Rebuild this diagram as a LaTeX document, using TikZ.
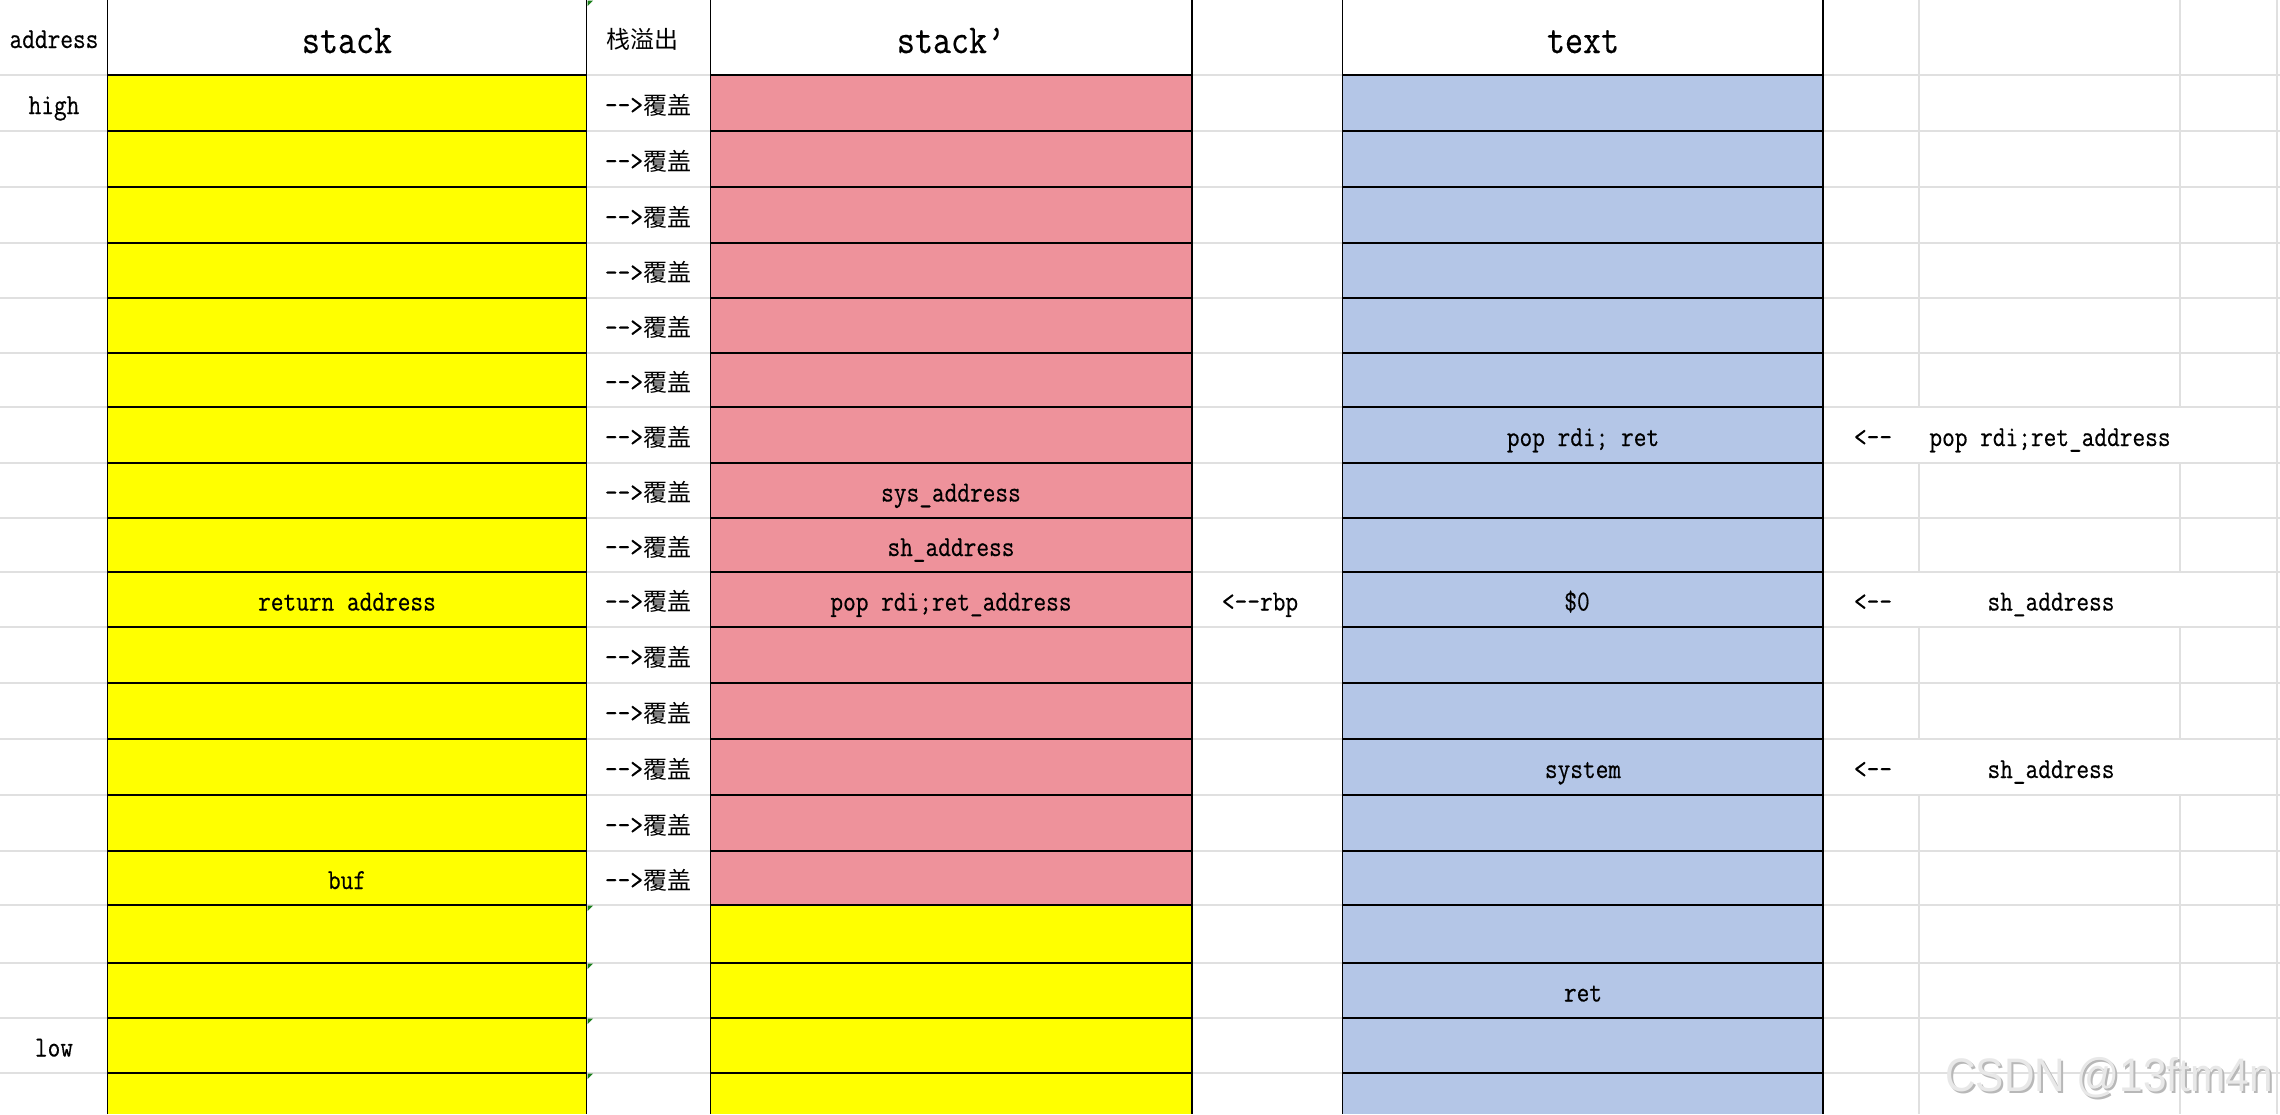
\documentclass[tikz,border=0pt]{standalone}
\usepackage{fontspec}
\setmonofont[FakeStretch=0.85,FakeBold=0.4]{Latin Modern Mono}
\newfontfamily\cjk{Noto Sans CJK SC}
\newfontfamily\wmfont[FakeStretch=0.9]{Liberation Sans}
\definecolor{cellyellow}{HTML}{FFFF00}
\definecolor{cellpink}{HTML}{EE929B}
\definecolor{cellblue}{HTML}{B4C6E7}
\definecolor{gridgray}{HTML}{E0E0E0}
\definecolor{xlgreen}{HTML}{1A7F1A}
\newcommand{\bodyfont}{\ttfamily\fontsize{14.5}{17}\selectfont}
\newcommand{\ovtext}{{\bodyfont -{}->}{\cjk\fontsize{12}{14}\selectfont 覆盖}}
\begin{document}
\begin{tikzpicture}[x=0.5pt,y=-0.5pt,
  gridline/.style={draw=gridgray,line width=0.55pt},
  borderline/.style={draw=black,line width=0.6pt},
  celltext/.style={font=\bodyfont,anchor=base,inner sep=0pt},
  headtext/.style={font=\ttfamily\fontsize{20.6}{24}\selectfont,anchor=base,inner sep=0pt},
  cjktext/.style={font=\cjk\fontsize{12}{14}\selectfont,anchor=base,inner sep=0pt},
  wmtext/.style={font=\wmfont\fontsize{23.5}{26}\selectfont,anchor=base west,inner sep=0pt},
]
\fill[white] (0,0) rectangle (2280,1114);
\useasboundingbox (0,0) rectangle (2280,1114);

% spreadsheet gridlines
\foreach \y in {75,131,187,243,298,353,407,463,518,572,627,683,739,795,851,905,963,1018,1073}
  \draw[gridline] (0,\y) -- (2280,\y);
\foreach \x in {1919,2180}{
  \draw[gridline] (\x,0) -- (\x,407);
  \draw[gridline] (\x,463) -- (\x,572);
  \draw[gridline] (\x,627) -- (\x,739);
  \draw[gridline] (\x,795) -- (\x,1114);
}
\draw[gridline] (2277,0) -- (2277,1114);

% column fills
\fill[white] (107.6,0) rectangle (586.5,75);
\fill[white] (710.5,0) rectangle (1192,75);
\fill[white] (1342.5,0) rectangle (1823,75);
\fill[cellyellow] (107.6,75) rectangle (586.5,1114);
\fill[cellpink] (710.5,75) rectangle (1192,905);
\fill[cellyellow] (710.5,905) rectangle (1192,1114);
\fill[cellblue] (1342.5,75) rectangle (1823,1114);

% black cell borders
\foreach \y in {75,131,187,243,298,353,407,463,518,572,627,683,739,795,851,905,963,1018,1073}{
  \draw[borderline] (107.6,\y) -- (586.5,\y);
  \draw[borderline] (710.5,\y) -- (1192,\y);
  \draw[borderline] (1342.5,\y) -- (1823,\y);
}
\foreach \x in {107.6,586.5,710.5,1192,1342.5,1823}
  \draw[borderline] (\x,0) -- (\x,1114);

% small green cell markers
\foreach \y in {0,905,963,1018,1073}
  \fill[xlgreen] (587.5,\y+0.5) -- (593,\y+0.5) -- (587.5,\y+6) -- cycle;

% header texts
\node[celltext] (haddr) at (54,48) {address};
\node[headtext] (hstack) at (347,53) {stack};
\node[cjktext] (hover) at (642,48) {栈溢出};
\node[headtext] (hstackp) at (951,53) {stack’};
\node[headtext] (htext) at (1583,53) {text};

% address column
\node[celltext] (ahigh) at (54,114) {high};
\node[celltext] (alow) at (54,1056.5) {low};

% stack column
\node[celltext] (sret) at (347,610.5) {return address};
\node[celltext] (sbuf) at (347,889) {buf};

% overflow column
\foreach \b [count=\i] in {114,170,226,281.5,336.5,391,446,501.5,556,610.5,666,722,778,834,889}
  \node[anchor=base,inner sep=0pt] (ov\i) at (648,\b) {\ovtext};

% stack' column
\node[celltext] (psys) at (951,501.5) {sys\_address};
\node[celltext] (psh) at (951,556) {sh\_address};
\node[celltext] (ppop) at (951,610.5) {pop rdi;ret\_address};

% rbp marker
\node[celltext] (rbp) at (1260,610.5) {<-{}-rbp};

% text column
\node[celltext] (tpop) at (1583,446) {pop rdi; ret};
\node[celltext] (tzero) at (1577,610.5) {\$0};
\node[celltext] (tsys) at (1583,778) {system};
\node[celltext] (tret) at (1583,1001.5) {ret};

% right-hand notes
\node[celltext] (la) at (1873,446) {<-{}-};
\node[celltext] (lb) at (1873,610.5) {<-{}-};
\node[celltext] (lc) at (1873,778) {<-{}-};
\node[celltext] (na) at (2050,446) {pop rdi;ret\_address};
\node[celltext] (nb) at (2051,610.5) {sh\_address};
\node[celltext] (nc) at (2051,778) {sh\_address};

% watermark
\node[wmtext,text=black!28] (wmshadow) at (1947,1093) {CSDN @13ftm4n};
\node[wmtext,text=black!9] (wm) at (1945,1091) {CSDN @13ftm4n};
\end{tikzpicture}
\end{document}
